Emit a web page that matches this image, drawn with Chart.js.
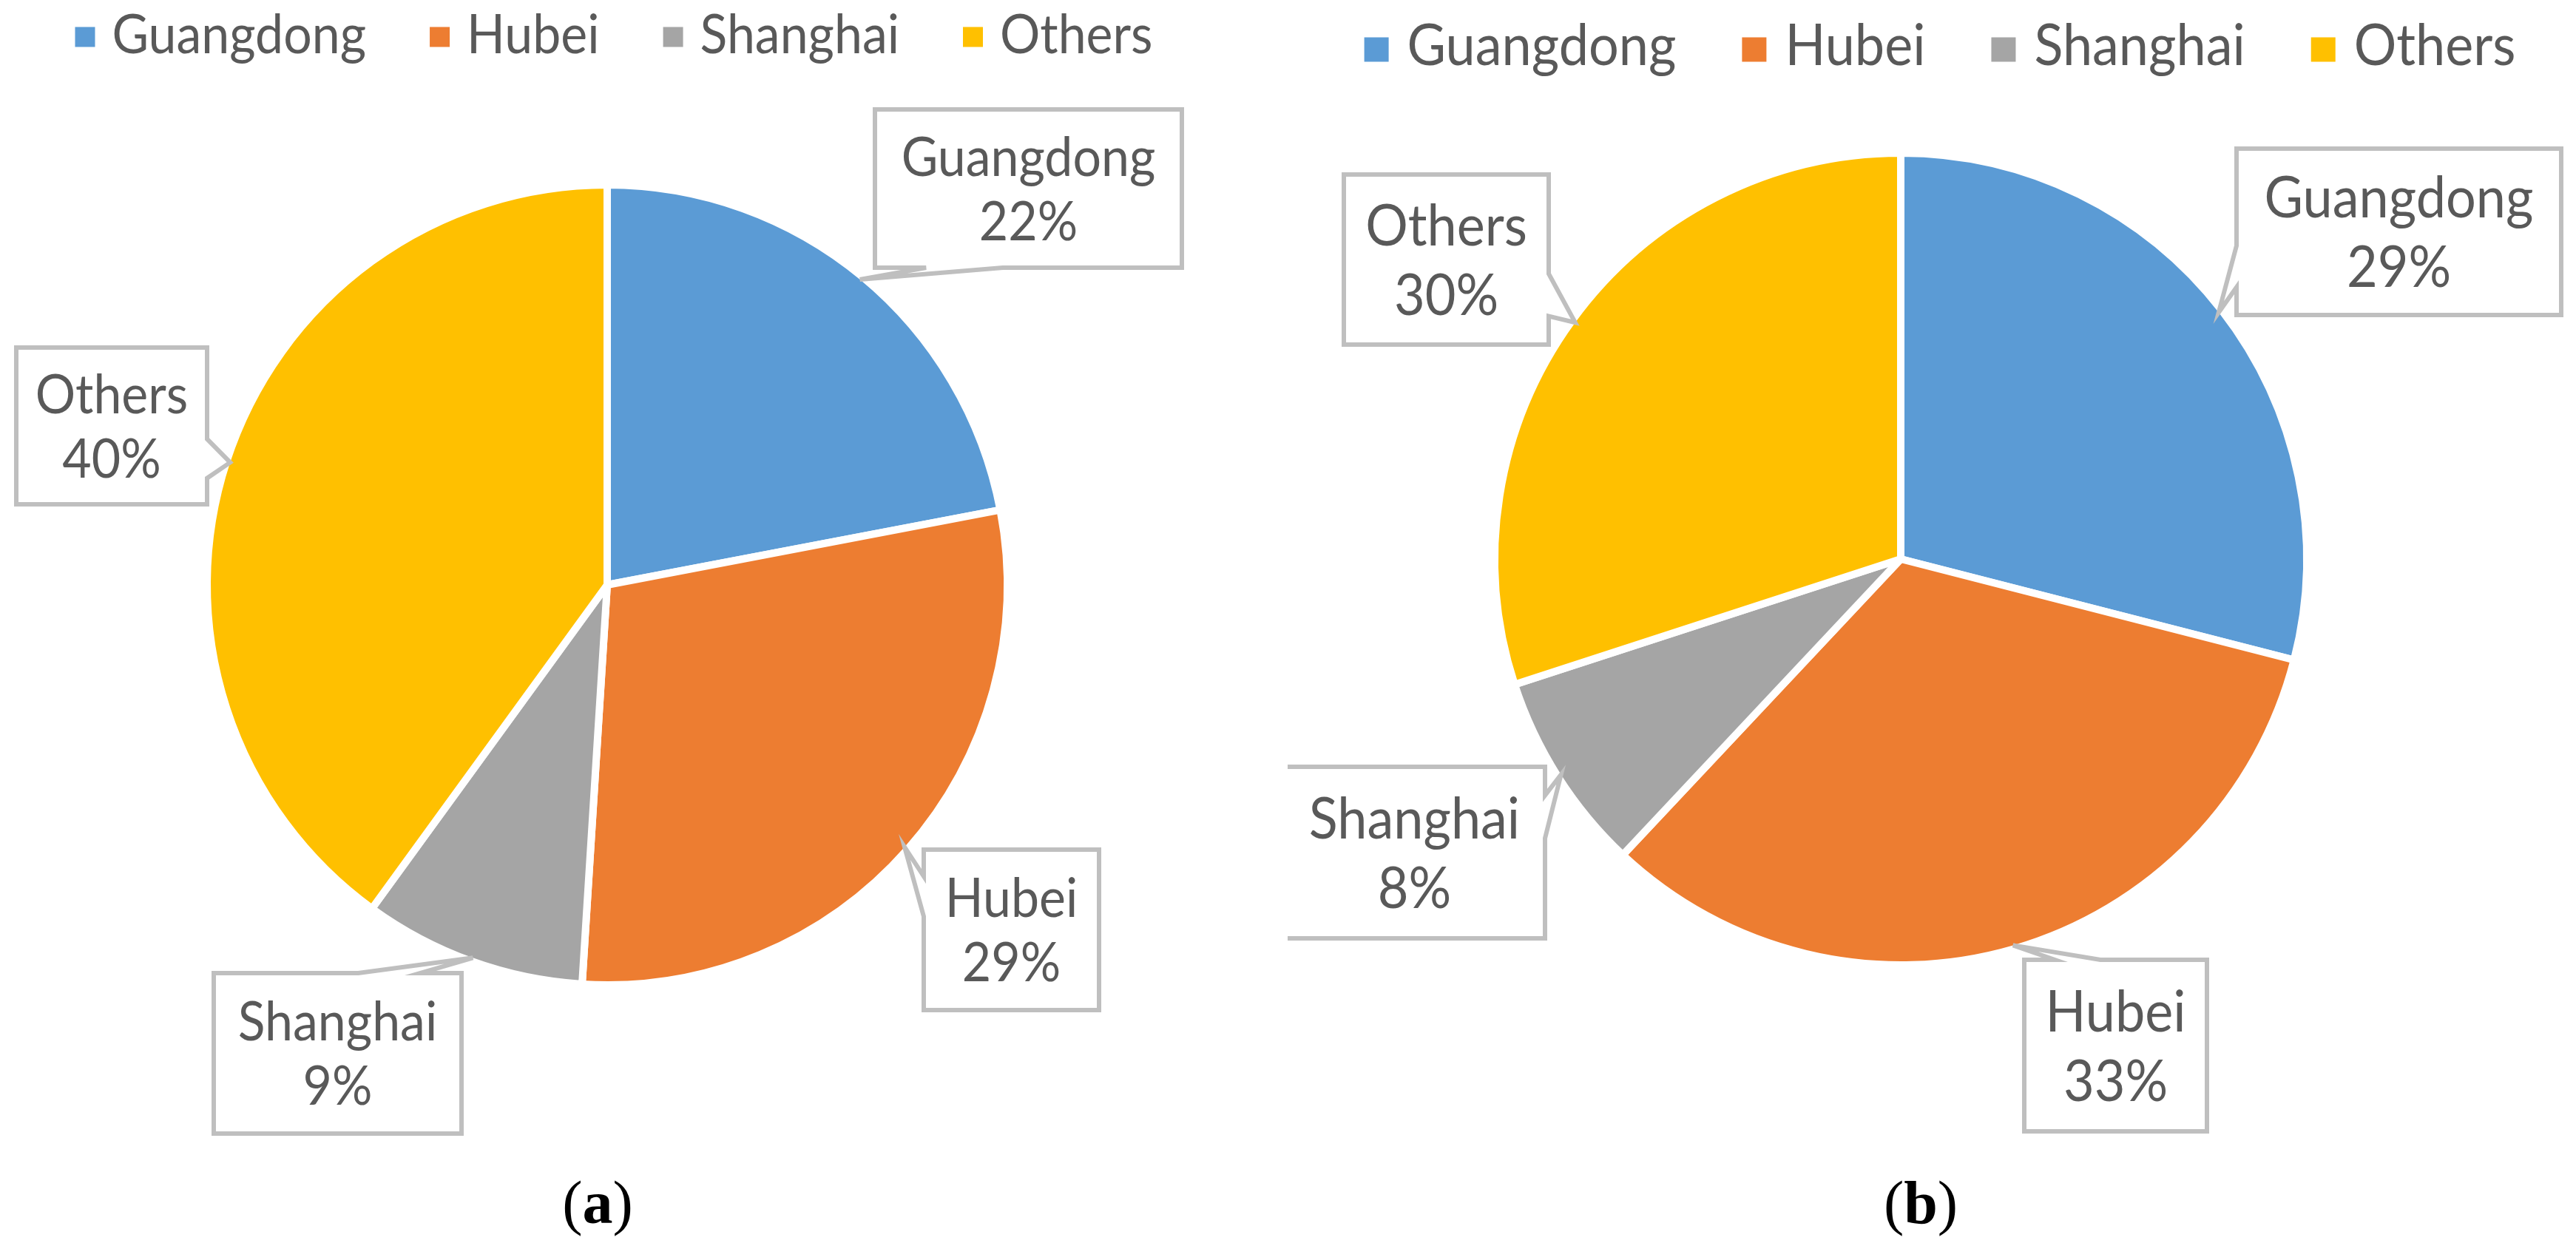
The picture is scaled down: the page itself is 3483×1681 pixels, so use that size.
<!DOCTYPE html>
<html><head><meta charset="utf-8">
<script src="https://cdn.jsdelivr.net/npm/chart.js@4.4.1/dist/chart.umd.min.js"></script>
<style>
html,body{margin:0;padding:0;background:#fff;width:3483px;height:1681px;overflow:hidden;}
#wrapA{position:absolute;left:0;top:0;width:1741px;height:1681px;}
#wrapB{position:absolute;left:1741px;top:0;width:1742px;height:1681px;}
canvas{display:block;}
.cap{position:absolute;font-family:"Liberation Serif","Times New Roman",serif;font-size:82px;line-height:82px;color:#000;transform:translateX(-50%);white-space:nowrap;}
</style></head><body>
<div id="wrapA"><canvas id="chartA" width="1741" height="1681" style="width:1741px;height:1681px"></canvas></div>
<div id="wrapB"><canvas id="chartB" width="1742" height="1681" style="width:1742px;height:1681px"></canvas></div>
<div class="cap" id="capA" style="left:808px;top:1586px"></div>
<div class="cap" id="capB" style="left:2597px;top:1586px"></div>
<script>
// ---- data ----
const categories = ['Guangdong', 'Hubei', 'Shanghai', 'Others'];
const sharesA = [22, 29, 9, 40];
const sharesB = [29, 33, 8, 30];
const panelNames = ['a', 'b'];

// ---- styles ----
const sliceColors = ['#5B9BD5', '#ED7D31', '#A5A5A5', '#FFC000'];
const textColor = '#595959';
const calloutBorder = '#BFBFBF';
const fontFamily = 'Lato, "Noto Sans", sans-serif';
const CAP = 0.7165;

const styleA = {
  padding: {left: 300, right: 399, top: 300, bottom: 399},
  radius: 541, border: 10,
  font: 68, lineGap: 87, stretch: 1.08,
  legend: {cx: 830, baseline: 72, box: 27, boxCy: 50, boxTextGap: 23, itemGap: 86},
  boxes: [[362, -643, 415, 214], [428, 358, 237, 217], [-532, 525, 335, 217], [-799, -321, 258, 212]]
};
const styleB = {
  padding: {left: 300, right: 384, top: 300, bottom: 469},
  radius: 549, border: 10,
  font: 72, lineGap: 94, stretch: 1.08,
  legend: {cx: 882, baseline: 88, box: 33, boxCy: 67, boxTextGap: 25, itemGap: 89},
  boxes: [[454, -555, 439, 225], [167, 542, 247, 232], [-834, 281, 353, 232], [-753, -520, 277, 230]]
};

function drawText(ctx, text, x, baseline, k) {
  ctx.save();
  ctx.translate(x, baseline);
  ctx.scale(1, k);
  ctx.fillText(text, 0, 0);
  ctx.restore();
}

const legendPlugin = {
  id: 'topLegend',
  afterDraw(chart, args, o) {
    const s = o.style; if (!s) return;
    const L = s.legend;
    const ctx = chart.ctx;
    ctx.save();
    ctx.font = `${s.font}px ${fontFamily}`;
    const labels = chart.data.labels;
    const colors = chart.data.datasets[0].backgroundColor;
    const widths = labels.map(t => ctx.measureText(t).width);
    let total = 0;
    widths.forEach((w, i) => { total += L.box + L.boxTextGap + w + (i < widths.length - 1 ? L.itemGap : 0); });
    let x = L.cx - total / 2;
    labels.forEach((t, i) => {
      ctx.fillStyle = colors[i];
      ctx.fillRect(x, L.boxCy - L.box / 2, L.box, L.box);
      x += L.box + L.boxTextGap;
      ctx.fillStyle = textColor;
      ctx.textAlign = 'left';
      ctx.textBaseline = 'alphabetic';
      drawText(ctx, t, x, L.baseline, s.stretch);
      x += widths[i] + L.itemGap;
    });
    ctx.restore();
  }
};

const calloutPlugin = {
  id: 'callouts',
  afterDatasetsDraw(chart, args, o) {
    const s = o.style; if (!s) return;
    const ctx = chart.ctx;
    const meta = chart.getDatasetMeta(0);
    const values = chart.data.datasets[0].data;
    meta.data.forEach((arc, i) => {
      const p = arc.getProps(['x', 'y', 'startAngle', 'endAngle', 'outerRadius'], true);
      const mid = (p.startAngle + p.endAngle) / 2;
      const r = p.outerRadius - s.border / 2;
      const tx = p.x + Math.cos(mid) * r;
      const ty = p.y + Math.sin(mid) * r;
      const [bdx, bdy, w, h] = s.boxes[i];
      const l = p.x + bdx, t = p.y + bdy, rr = l + w, b = t + h;
      const cx = l + w / 2, cy = t + h / 2;
      const dx = tx - cx, dy = ty - cy;
      const vertical = Math.abs(dy) - Math.abs(dx * h / w) > 0;
      const xg1 = dx > 0 ? 7 : 2, xg2 = dx > 0 ? 10 : 5;
      const yg1 = dy > 0 ? 7 : 2, yg2 = dy > 0 ? 10 : 5;
      const side = vertical ? (dy < 0 ? 'top' : 'bottom') : (dx < 0 ? 'left' : 'right');
      ctx.save();
      ctx.beginPath();
      ctx.moveTo(l, t);
      if (side === 'top') { ctx.lineTo(l + w * xg1 / 12, t); ctx.lineTo(tx, ty); ctx.lineTo(l + w * xg2 / 12, t); }
      ctx.lineTo(rr, t);
      if (side === 'right') { ctx.lineTo(rr, t + h * yg1 / 12); ctx.lineTo(tx, ty); ctx.lineTo(rr, t + h * yg2 / 12); }
      ctx.lineTo(rr, b);
      if (side === 'bottom') { ctx.lineTo(l + w * xg2 / 12, b); ctx.lineTo(tx, ty); ctx.lineTo(l + w * xg1 / 12, b); }
      ctx.lineTo(l, b);
      if (side === 'left') { ctx.lineTo(l, t + h * yg2 / 12); ctx.lineTo(tx, ty); ctx.lineTo(l, t + h * yg1 / 12); }
      ctx.closePath();
      ctx.fillStyle = '#FFFFFF';
      ctx.fill();
      ctx.lineWidth = 6;
      ctx.lineJoin = 'miter';
      ctx.strokeStyle = calloutBorder;
      ctx.stroke();
      ctx.fillStyle = textColor;
      ctx.font = `${s.font}px ${fontFamily}`;
      ctx.textAlign = 'center';
      ctx.textBaseline = 'alphabetic';
      const capH = CAP * s.font * s.stretch;
      drawText(ctx, chart.data.labels[i], cx, cy - s.lineGap / 2 + capH / 2, s.stretch);
      drawText(ctx, values[i] + '%', cx, cy + s.lineGap / 2 + capH / 2, s.stretch);
      ctx.restore();
    });
  }
};

function makePie(id, values, style) {
  return new Chart(document.getElementById(id), {
    type: 'pie',
    data: {
      labels: categories,
      datasets: [{
        data: values,
        backgroundColor: sliceColors,
        borderColor: '#FFFFFF',
        borderWidth: style.border,
        clip: false
      }]
    },
    options: {
      responsive: false,
      devicePixelRatio: 1,
      animation: false,
      events: [],
      radius: style.radius,
      layout: {padding: style.padding},
      plugins: {
        legend: {display: false},
        tooltip: {enabled: false},
        topLegend: {style: style},
        callouts: {style: style}
      }
    },
    plugins: [legendPlugin, calloutPlugin]
  });
}

makePie('chartA', sharesA, styleA);
makePie('chartB', sharesB, styleB);

['capA', 'capB'].forEach((id, i) => {
  const el = document.getElementById(id);
  el.appendChild(document.createTextNode('('));
  const bEl = document.createElement('b');
  bEl.textContent = panelNames[i];
  el.appendChild(bEl);
  el.appendChild(document.createTextNode(')'));
});
</script>
</body></html>
